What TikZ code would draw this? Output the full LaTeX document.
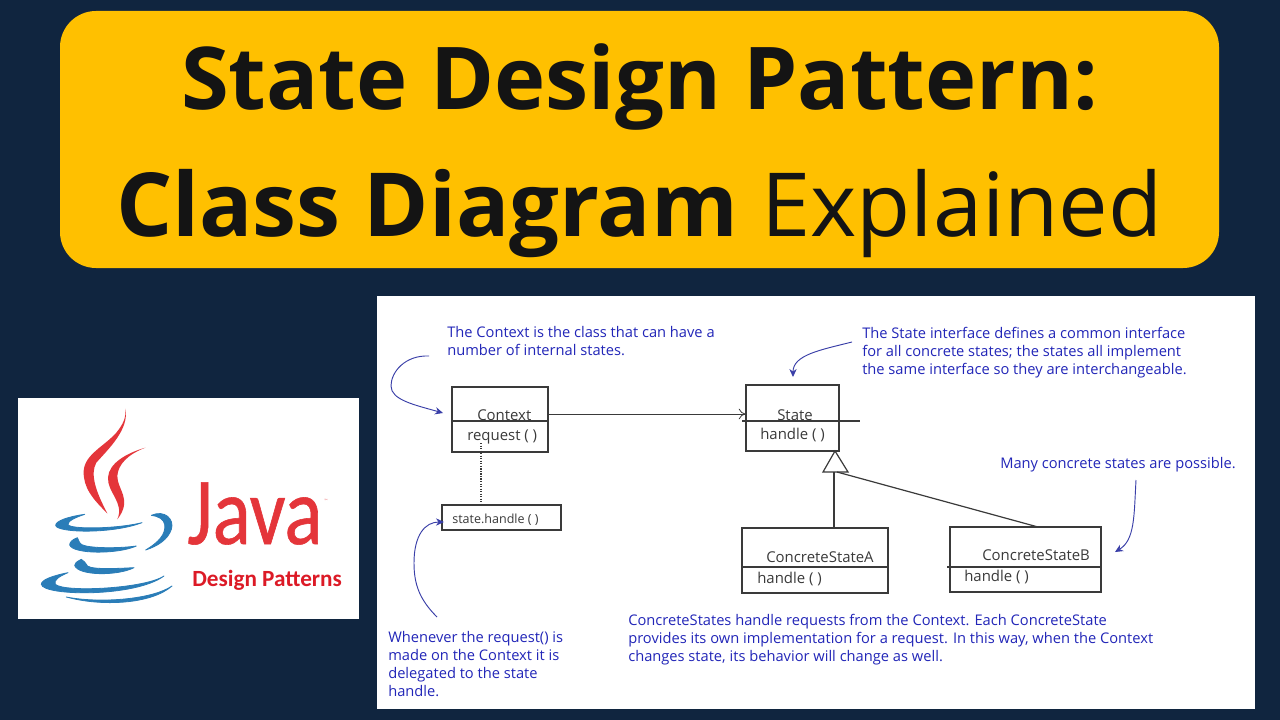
\documentclass[tikz,border=0pt]{standalone}
\usepackage{fontspec}
\setmainfont{Open Sans}
\newfontfamily\carlito{Carlito}
\newfontfamily\javafont[FakeStretch=.83,FakeBold=.6]{Carlito}
\usetikzlibrary{arrows.meta}
\definecolor{bgnavy}{HTML}{10253F}
\definecolor{titlegold}{HTML}{FFC000}
\definecolor{noteblue}{HTML}{2226B8}
\definecolor{curveblue}{HTML}{3A3FA8}
\definecolor{umlgrey}{HTML}{3A3A3A}
\definecolor{javared}{HTML}{E4353A}
\definecolor{patred}{HTML}{DC1A26}
\definecolor{cupblue}{HTML}{2A7DB8}
\tikzset{
 umlbox/.style={draw=umlgrey,line width=.9pt,inner sep=0pt},
 umlline/.style={draw=umlgrey,line width=.9pt},
 umltext/.style={inner sep=0pt,anchor=base west,text=umlgrey,font=\fontsize{11.2pt}{13pt}\selectfont},
 note/.style={inner sep=0pt,anchor=north west,align=left,text=noteblue,font=\fontsize{11pt}{13.4pt}\selectfont},
 curve/.style={draw=curveblue,line width=.7pt,-{Stealth[length=6pt,width=5.5pt]}},
 cuppart/.style={fill=cupblue,draw=cupblue,line width=.6pt,line join=round}
}
\begin{document}
\begin{tikzpicture}[x=.75pt,y=-.75pt]
\useasboundingbox (0,0) rectangle (1280,720);
\fill[bgnavy] (0,0) rectangle (1280,720);

% title
\node (titlebox) at (639.5,139.5) [fill=titlegold,rounded corners=27pt,minimum width=1159*.75pt,minimum height=257*.75pt,inner sep=0pt] {};
\node (title) at (639.5,151) [inner sep=0pt,align=center,text=black!92,font=\fontsize{65pt}{95pt}\selectfont]
 {\textbf{State Design Pattern:}\\{\fontsize{66.3pt}{95pt}\selectfont\textbf{Class Diagram} Explained}};

% logo
\fill[white] (18,398) rectangle (359,619);
\begin{scope}[shift={(18,396)},x=.25pt,y=-.25pt]
\fill[javared] (322,38) .. controls (335,100) and (270,160) .. (235,200) .. controls (215,235) and (235,290) .. (268,352) .. controls (225,310) and (195,275) .. (197,225) .. controls (200,175) and (260,150) .. (295,110) .. controls (315,85) and (325,65) .. (322,38) -- cycle;
\fill[javared] (382,155) .. controls (330,175) and (300,205) .. (298,240) .. controls (297,280) and (345,310) .. (298,370) .. controls (320,320) and (268,290) .. (270,245) .. controls (272,200) and (330,170) .. (382,155) -- cycle;
\path[cuppart] (200,355) .. controls (150,362) and (113,375) .. (113,388) .. controls (115,410) and (280,415) .. (372,380) .. controls (290,400) and (150,400) .. (150,385) .. controls (150,375) and (170,365) .. (200,355) -- cycle;
\path[cuppart] (400,358) .. controls (440,340) and (470,370) .. (460,400) .. controls (450,430) and (420,450) .. (383,462) .. controls (420,440) and (445,415) .. (440,385) .. controls (438,370) and (420,360) .. (400,358) -- cycle;
\path[cuppart] (178,425) .. controls (160,432) and (155,440) .. (155,447) .. controls (165,475) and (300,475) .. (355,450) .. controls (300,458) and (190,458) .. (185,440) .. controls (183,435) and (180,430) .. (178,425) -- cycle;
\path[cuppart] (190,490) .. controls (175,497) and (170,503) .. (170,508) .. controls (180,540) and (300,540) .. (348,515) .. controls (290,518) and (205,522) .. (205,505) .. controls (203,500) and (197,495) .. (190,490) -- cycle;
\path[cuppart] (150,530) .. controls (100,540) and (70,552) .. (70,565) .. controls (75,600) and (350,605) .. (438,540) .. controls (380,578) and (140,590) .. (112,565) .. controls (105,553) and (125,540) .. (150,530) -- cycle;
\path[cuppart] (145,603) .. controls (250,632) and (400,625) .. (462,570) .. controls (400,612) and (240,622) .. (145,603) -- cycle;
\end{scope}
\node (java) at (187,544) [inner sep=0pt,anchor=base west,text=javared,font=\javafont\fontsize{72pt}{72pt}\selectfont] {Java};
\node (tm) at (324,502) [inner sep=0pt,anchor=base west,text=javared!70,font=\carlito\fontsize{3.5pt}{4pt}\selectfont] {™};
\node (dp) at (192,586) [inner sep=0pt,anchor=base west,text=patred,font=\carlito\bfseries\fontsize{17.4pt}{18pt}\selectfont] {Design Patterns};

% diagram panel
\fill[white] (377,296) rectangle (1255,709);

% class boxes
\node (context) at (500,419.5) [umlbox,minimum width=96*.75pt,minimum height=65*.75pt] {};
\node (statebox) at (792.5,418) [umlbox,minimum width=93*.75pt,minimum height=66*.75pt] {};
\node (delegate) at (501.5,517.5) [umlbox,minimum width=119*.75pt,minimum height=25*.75pt] {};
\node (concA) at (815,560.5) [umlbox,minimum width=146*.75pt,minimum height=65*.75pt] {};
\node (concB) at (1025.5,559.5) [umlbox,minimum width=151*.75pt,minimum height=65*.75pt] {};

% dividers
\coordinate (statedivL) at (742,421);
\coordinate (statedivR) at (860,421);
\coordinate (bdivL) at (947,567);
\draw[umlline] (context.west |- 0,421) -- (context.east |- 0,421);
\draw[umlline] (statedivL) -- (statedivR);
\draw[umlline] (concA.west |- 0,567) -- (concA.east |- 0,567);
\draw[umlline] (bdivL) -- (concB.east |- 0,567);

% class labels
\node (lctx) at (477,420) [umltext] {Context};
\node (lreq) at (467,440) [umltext] {request ( )};
\node (lstate) at (777,420) [umltext] {State};
\node (lhs) at (760,439) [umltext] {handle ( )};
\node (ldel) at (452,523) [umltext,font=\fontsize{9.4pt}{11pt}\selectfont] {state.handle ( )};
\node (lca) at (766,562) [umltext] {ConcreteStateA};
\node (lha) at (757,583) [umltext] {handle ( )};
\node (lcb) at (982,560) [umltext] {ConcreteStateB};
\node (lhb) at (964,581) [umltext] {handle ( )};

% connectors
\coordinate (dottop) at (481,443);
\draw[umlline,densely dotted] (dottop) -- (dottop |- delegate.north);
\coordinate (ctxout) at (context.east |- 0,414);
\coordinate (statein) at (statebox.west |- 0,414);
\draw[draw=umlgrey,line width=.6pt,-{To[length=5pt,width=8pt]}] (ctxout) -- (statein);
\coordinate (triL) at (823,472);
\coordinate (triR) at (848,472);
\coordinate (triT) at (835,451);
\coordinate (triA) at (834,472);
\coordinate (triB) at (837,472);
\coordinate (concBtop) at (1038,527);
\draw[umlline,fill=white,line join=miter] (triT) -- (triR) -- (triL) -- cycle;
\draw[umlline] (triA) -- (triA |- concA.north);
\draw[umlline] (triB) -- (concBtop);

% notes
\node (n1) at (447,326.5) [note] {The Context is the class that can have a\\number of internal states.};
\node (n2) at (862,327) [note] {The State interface defines a common interface\\for all concrete states; the states all implement\\the same interface so they are interchangeable.};
\node (n3) at (1000,457.5) [note] {Many concrete states are possible.};
\node (n4) at (628,614.5) [note] {ConcreteStates handle requests from the Context. Each ConcreteState\\provides its own implementation for a request. In this way, when the Context\\changes state, its behavior will change as well.};
\node (n5) at (388,631) [note] {Whenever the request() is\\made on the Context it is\\delegated to the state\\handle.};

% curved pointers
\coordinate (c1s) at (429,356);
\coordinate (c1m) at (391,386);
\coordinate (c1e) at (443,413);
\coordinate (c2s) at (852,342);
\coordinate (c2e) at (793,377);
\coordinate (c3s) at (1136,480);
\coordinate (c3e) at (1115,552);
\coordinate (c4s) at (437,617);
\coordinate (c4m) at (414,563);
\coordinate (c4e) at (444,522);
\path[curve] (c1s) .. controls (405,355) and (391,372) .. (c1m) .. controls (391,400) and (415,405) .. (c1e);
\path[curve] (c2s) .. controls (820,350) and (793,355) .. (c2e);
\path[curve] (c3s) .. controls (1134,515) and (1135,540) .. (c3e);
\path[curve] (c4s) .. controls (420,600) and (414,585) .. (c4m) .. controls (414,535) and (425,522) .. (c4e);
\end{tikzpicture}
\end{document}
